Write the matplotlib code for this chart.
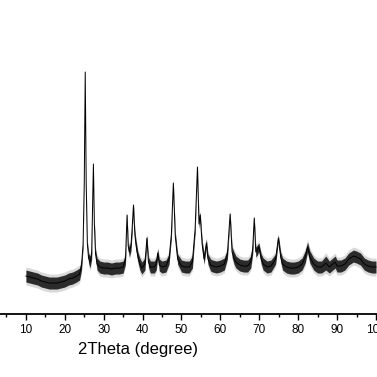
import matplotlib
matplotlib.use("Agg")
import matplotlib.pyplot as plt
from matplotlib.ticker import MultipleLocator

plt.rcParams['font.family'] = ['Liberation Sans', 'DejaVu Sans']

# XRD pattern (intensity in a.u.)
two_theta = [10.0, 11.0, 12.0, 13.0, 14.0, 15.0, 16.0, 17.0, 18.0, 19.0,
             20.0, 21.0, 22.0, 23.0, 23.8, 24.3, 24.7, 25.0, 25.25, 25.5,
             25.8, 26.1, 26.5, 26.9, 27.1, 27.35, 27.6, 27.9, 28.3, 29.0,
             30.0, 31.0, 32.0, 33.0, 34.0, 35.0, 35.6, 36.0, 36.3, 36.6,
             37.0, 37.3, 37.65, 38.0, 38.3, 38.8, 39.3, 39.8, 40.6, 41.1,
             41.5, 42.0, 43.0, 43.5, 43.9, 44.3, 45.0, 46.0, 46.8, 47.4,
             47.9, 48.4, 49.0, 50.0, 51.0, 52.0, 52.8, 53.5, 54.1, 54.5,
             54.8, 55.3, 55.8, 56.4, 56.8, 57.5, 58.0, 59.0, 60.0, 61.0,
             61.8, 62.5, 63.0, 63.5, 64.0, 65.0, 66.0, 67.0, 67.8, 68.3,
             68.7, 69.1, 69.5, 69.9, 70.5, 71.0, 72.0, 73.0, 74.2, 74.9,
             75.5, 76.0, 77.0, 78.0, 79.0, 80.0, 81.0, 81.8, 82.4, 83.0,
             84.0, 85.0, 86.0, 87.1, 88.0, 89.5, 90.0, 91.0, 92.0, 93.0,
             94.2, 95.0, 96.0, 97.0, 98.0, 99.0, 100.0]
intensity = [38, 37, 36, 35, 33, 32, 31, 31, 31, 32,
             33, 35, 36, 38, 40, 49, 70, 130, 242, 130,
             70, 56, 52, 60, 100, 150, 90, 60, 50, 47,
             46, 46, 45, 46, 46, 47, 55, 99, 68, 62,
             68, 85, 109, 80, 69, 57, 50, 46, 50, 76,
             52, 47, 47, 50, 61, 49, 47, 48, 55, 80,
             131, 78, 55, 48, 47, 47, 52, 85, 147, 90,
             99, 70, 55, 71, 55, 49, 48, 47, 48, 50,
             60, 100, 62, 56, 52, 49, 48, 48, 52, 65,
             96, 62, 64, 67, 55, 50, 47, 48, 55, 76,
             57, 50, 47, 46, 46, 47, 50, 57, 67, 57,
             50, 47, 47, 51, 47, 52, 48, 48, 50, 55,
             58, 57, 55, 50, 48, 47, 47]
# half width of the noise band seen around the trace
spread = [6, 6, 6, 6, 6, 6, 6, 6, 6, 6,
          6, 6, 6, 6, 6, 5, 3, 2, 1, 2,
          3, 5, 6, 5, 3, 1, 3, 5, 6, 6,
          6, 6, 6, 6, 6, 6, 5, 2, 4, 5,
          5, 4, 2, 4, 5, 5, 6, 6, 6, 3,
          5, 6, 6, 6, 4, 6, 6, 6, 5, 4,
          2, 4, 5, 6, 6, 6, 6, 4, 2, 4,
          3, 4, 5, 4, 5, 6, 6, 6, 6, 6,
          5, 2, 5, 6, 6, 6, 6, 6, 6, 5,
          2, 5, 5, 4, 5, 6, 6, 6, 5, 3,
          5, 6, 6, 6, 6, 6, 6, 6, 5, 6,
          6, 6, 6, 7, 6, 6, 6, 6, 6, 6,
          6, 6, 6, 6, 6, 6, 6]

lower = [i - s for i, s in zip(intensity, spread)]
upper = [i + s for i, s in zip(intensity, spread)]
lower_out = [i - 1.5 * s for i, s in zip(intensity, spread)]
upper_out = [i + 1.5 * s for i, s in zip(intensity, spread)]

fig = plt.figure(figsize=(3.77, 3.77), dpi=100)
ax = fig.add_axes([0.0, 0.167, 1.0, 0.833])

# grey fringe and dark core of the noisy trace
ax.fill_between(two_theta, lower_out, upper_out, color="black", alpha=0.15, linewidth=0)
ax.fill_between(two_theta, lower, upper, color="black", alpha=0.8, linewidth=0)
ax.plot(two_theta, intensity, color="black", linewidth=0.7)

ax.set_xlim(3.34, 100.26)
ax.set_ylim(0, 314)

for side in ["left", "right", "top"]:
    ax.spines[side].set_visible(False)
ax.spines["bottom"].set_linewidth(1.3)

ax.xaxis.set_major_locator(MultipleLocator(10))
ax.xaxis.set_minor_locator(MultipleLocator(5))
ax.tick_params(axis="x", which="major", direction="out", length=4, width=1, labelsize=8.5, pad=3)
ax.tick_params(axis="x", which="minor", direction="out", length=2.5, width=1)
ax.set_yticks([])

ax.set_xlabel("2Theta (degree)", fontsize=12)
ax.xaxis.set_label_coords(138 / 377, -0.09)

fig.savefig("out.png", dpi=100)
